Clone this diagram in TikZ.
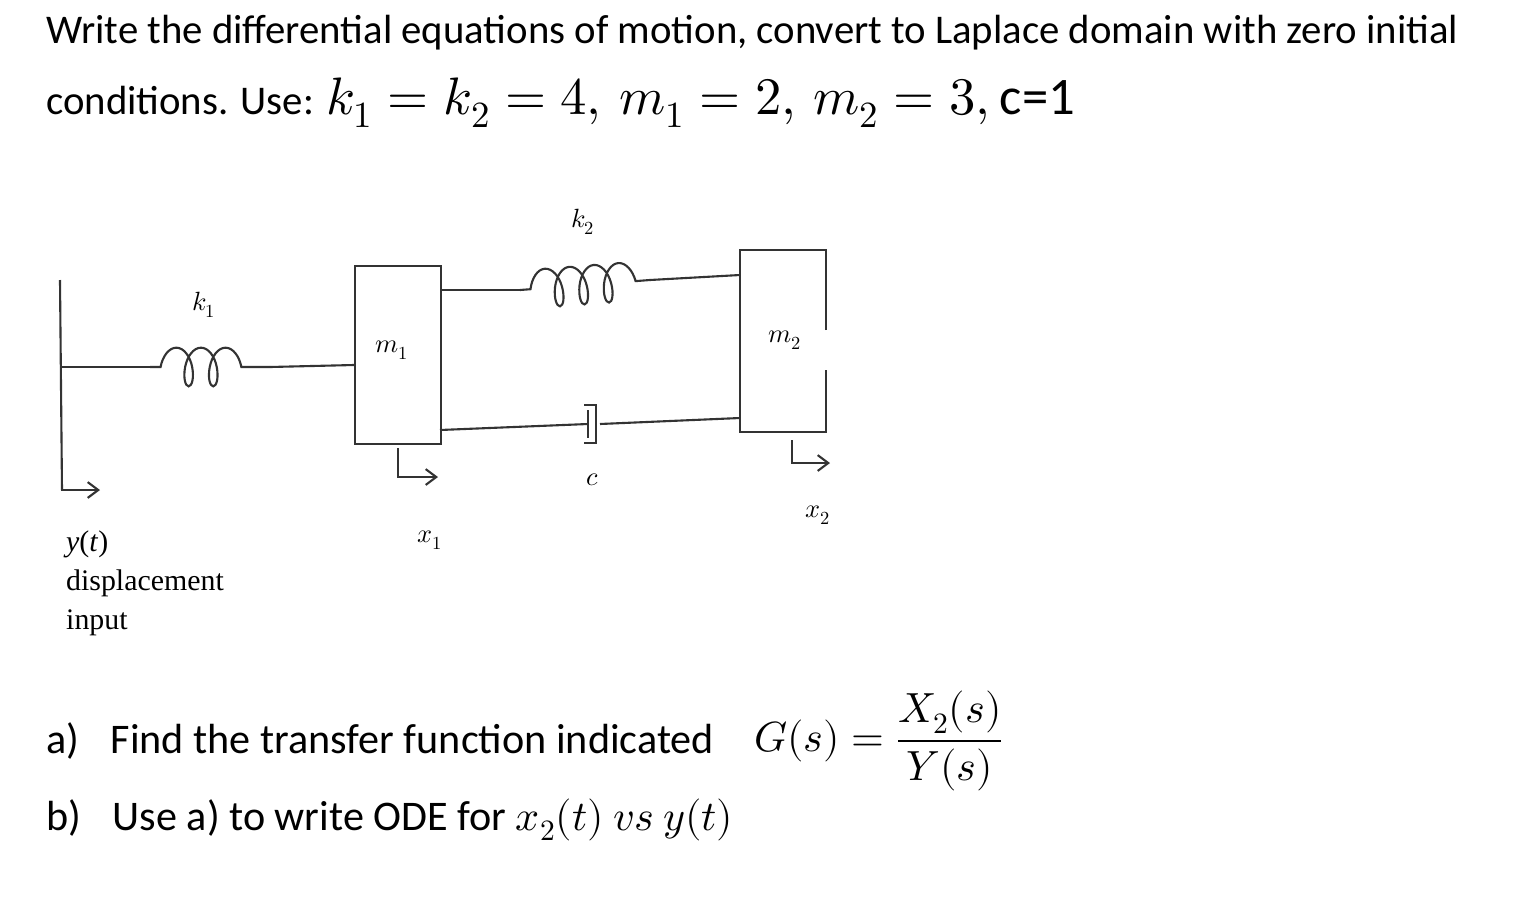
\documentclass[tikz,border=0pt]{standalone}
\usepackage{fontspec}
\setmainfont{Carlito}
\usepackage{unicode-math}
\setmathfont{Latin Modern Math}
\newfontfamily\serifd{Liberation Serif}
\usetikzlibrary{decorations.pathmorphing,arrows.meta}
\begin{document}
\begin{tikzpicture}[x=0.02cm,y=-0.02cm,
  ln/.style={line width=1.2pt,draw=black!80},
  spr/.style={ln,decorate,decoration={coil,aspect=0.5,segment length=14pt,amplitude=11pt,pre length=6pt,post length=6pt}},
  lbl/.style={font=\serifd\itshape\fontsize{15}{15}\selectfont},
  arr/.style={ln,-{Straight Barb[length=6pt,width=9pt]}}]
\useasboundingbox (0,0) rectangle (1522,910);
\node[anchor=west,font=\fontsize{23.2}{28}\selectfont] (t1) at (40,33) {Write the differential equations of motion, convert to Laplace domain with zero initial};
\node[anchor=west,font=\fontsize{23.2}{28}\selectfont] (t2) at (40,103) {conditions. Use: {\fontsize{30}{34}\selectfont $k_1=k_2=4,\,m_1=2,\,m_2=3,$} {\fontsize{30}{34}\selectfont c=1}};
% wall
\coordinate (w1) at (60,280); \coordinate (w2) at (62,490);
\draw[ln] (w1) -- (w2);
\coordinate (wk) at (61,367);
% m1
\node[ln,draw,minimum width=86*0.02cm,minimum height=178*0.02cm,anchor=north west] (m1) at (354,265) {};
\node[lbl] at (392,350) {$m_1$};
% m2
\coordinate (m2a) at (826,330);\coordinate (m2b) at (740,250);
\draw[ln] (m2a) -- (826,250) -- (m2b) -- (740,432) -- (826,432) -- (826,370);
\node[lbl] (m2) at (785,340) {$m_2$};
% k1 spring
\coordinate (k1a) at (354,365);
\draw[ln] (wk) -- (150,367);
\draw[spr] (150,367) -- (270,367);
\draw[ln] (270,367) -- (k1a);
\node[lbl] (k1) at (204,305) {$k_1$};
% k2 spring
\coordinate (k2a) at (440,290); \coordinate (k2b) at (740,275);
\draw[ln] (k2a) -- (520,290);
\draw[spr] (520,290) -- (650,280);
\draw[ln] (650,280) -- (k2b);
\node[lbl] (k2) at (583,222) {$k_2$};
% damper
\coordinate (d1) at (440,430); \coordinate (d2) at (740,418);
\draw[ln] (d1) -- (588,424);
\draw[ln] (600,424) -- (d2);
\draw[ln] (588,410) -- (588,438);
\draw[ln] (584,405) -- (596,405) -- (596,443) -- (584,443);
\node[lbl] (c) at (593,480) {$c$};
% arrows
\draw[arr] (62,470) -- (62,490) -- (100,490);
\draw[arr] (398,448) -- (398,477) -- (438,477);
\draw[arr] (792,440) -- (792,463) -- (830,463);
\node[lbl] (x1) at (430,540) {$x_1$};
\node[lbl] (x2) at (818,515) {$x_2$};
\node[lbl,anchor=north west,align=left,font=\serifd\fontsize{17}{22}\selectfont] (yt) at (60,525) {\textit{y}(\textit{t})\\displacement\\input};
% questions
\node[anchor=west,font=\fontsize{24}{28}\selectfont] (qa) at (40,741) {a)\hspace{18pt}Find the transfer function indicated};
\node[anchor=west,font=\fontsize{24}{28}\selectfont] (g) at (748,741) {$G(s)=\dfrac{X_2(s)}{Y(s)}$};
\node[anchor=west,font=\fontsize{24}{28}\selectfont] (qb) at (40,820) {b)\hspace{18pt}Use a) to write ODE for $x_2(t)\ vs\ y(t)$};
\end{tikzpicture}
\end{document}
